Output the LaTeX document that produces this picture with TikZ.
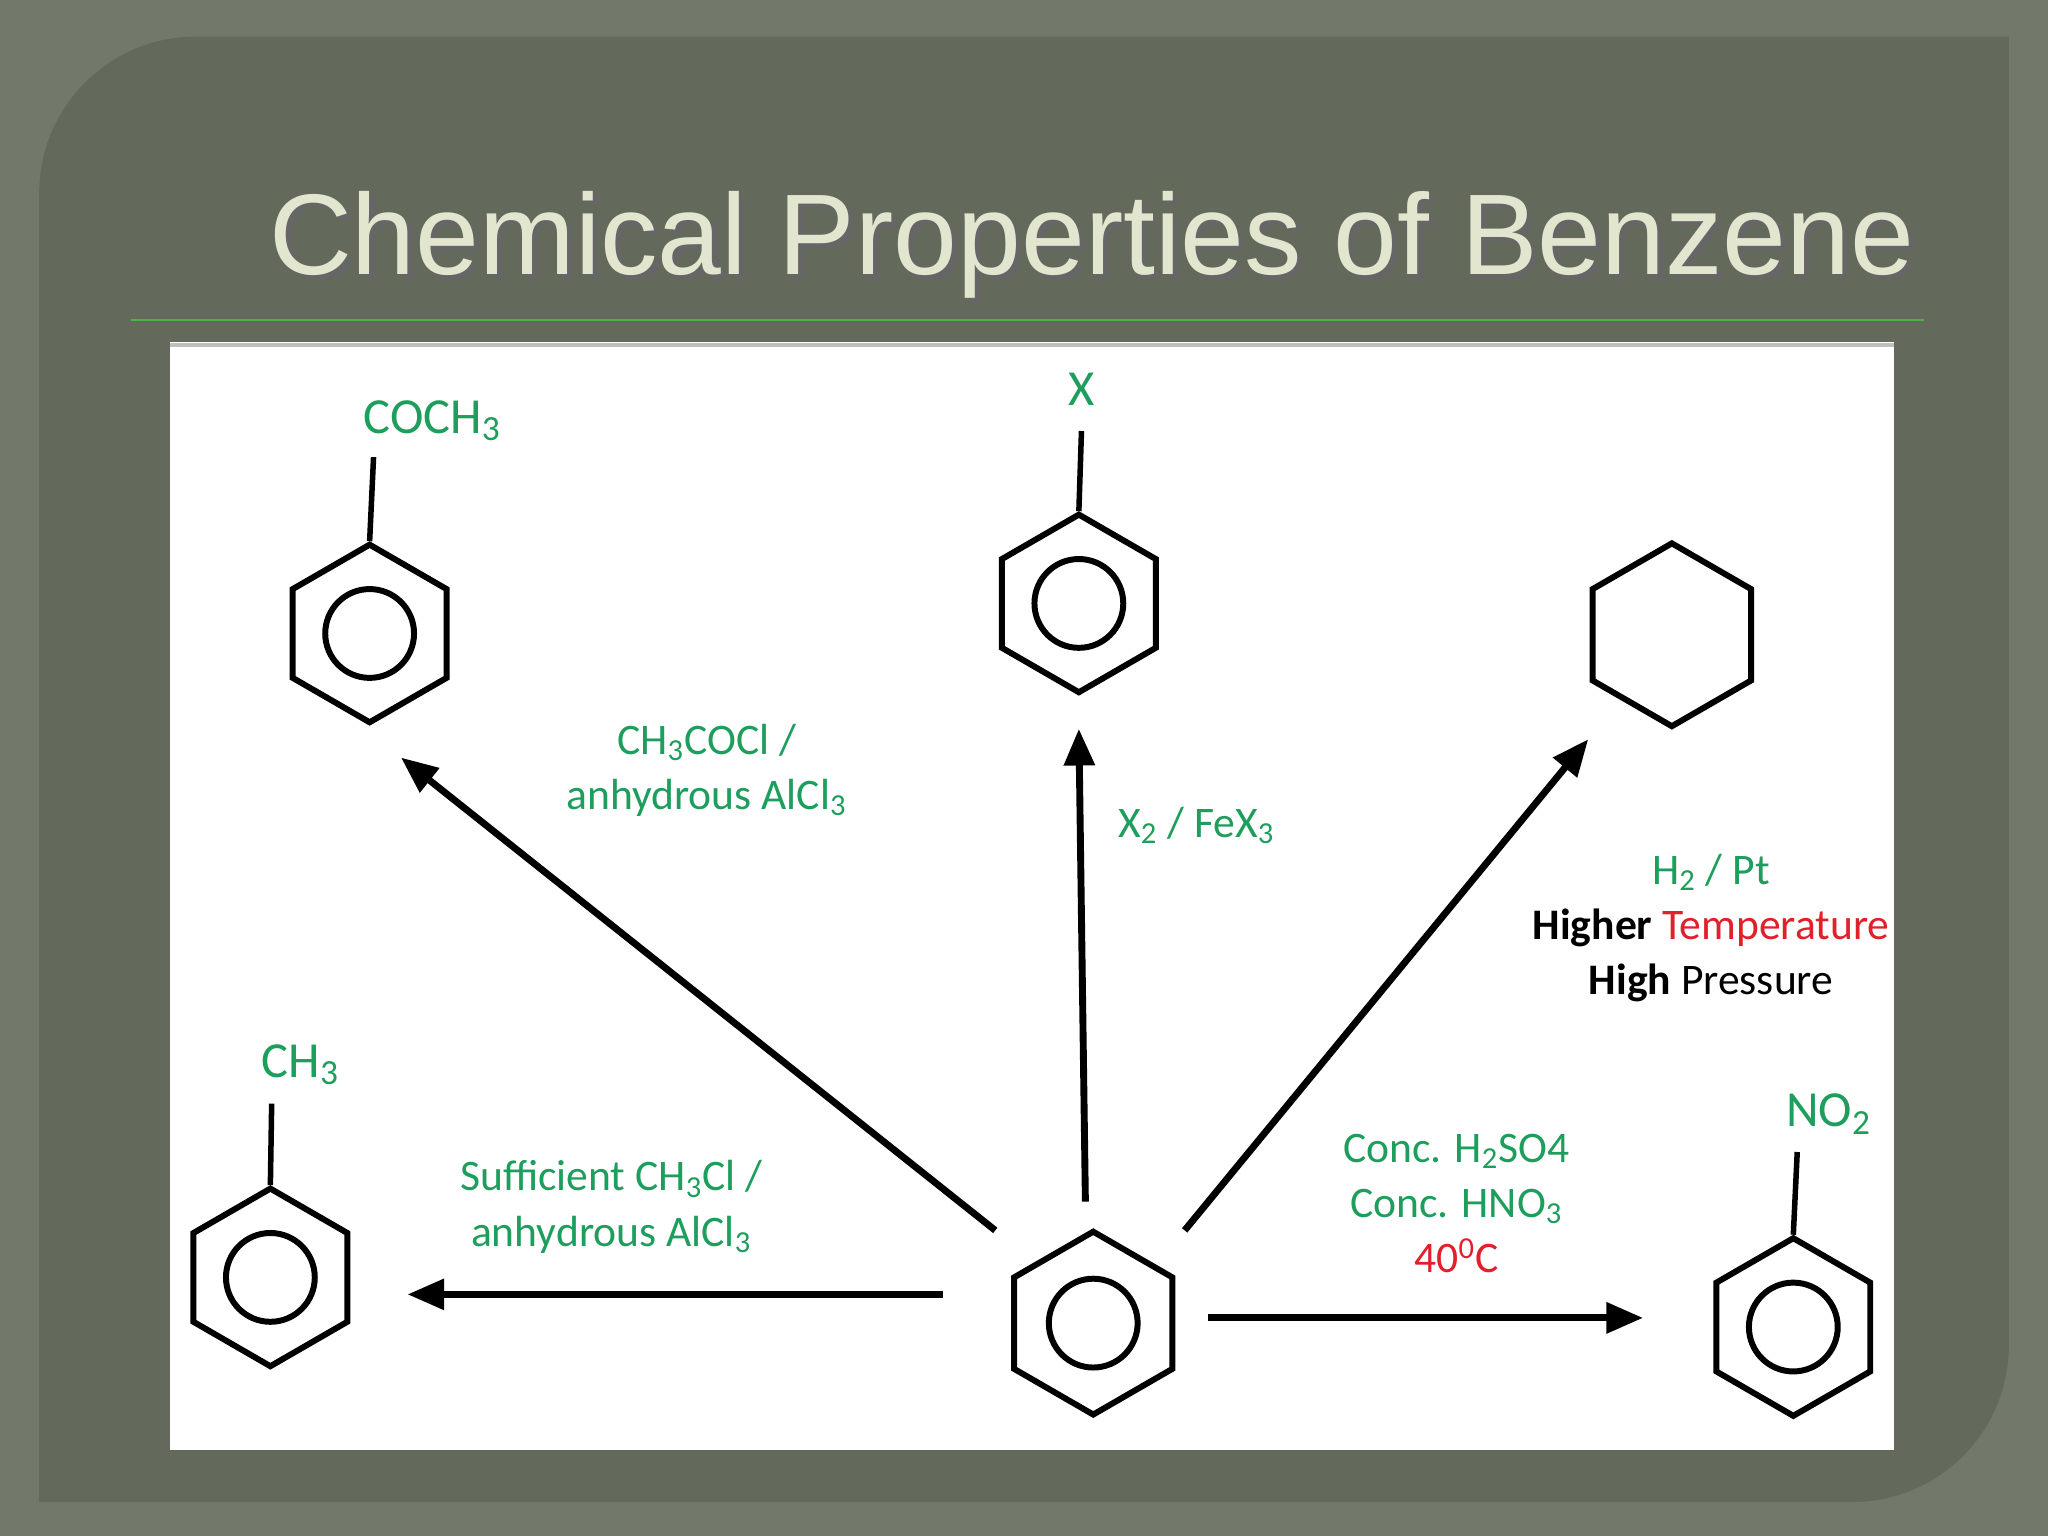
\documentclass[tikz,border=0pt]{standalone}
\usepackage{fontspec}
\setmainfont{Carlito}
\newfontfamily\titlefont{Liberation Sans}
\usetikzlibrary{shapes.geometric,arrows.meta}
\definecolor{bgout}{HTML}{72786A}
\definecolor{bgin}{HTML}{63695B}
\definecolor{ttl}{HTML}{E2E6CF}
\definecolor{chemgreen}{HTML}{1E9E5C}
\definecolor{chemred}{HTML}{E0202A}
\newcommand{\sbs}[1]{\textsubscript{#1}}
\tikzset{
 px/.style={x=0.02cm,y=-0.02cm},
 ring/.style={regular polygon,regular polygon sides=6,shape border rotate=30,draw,line width=2.6pt,minimum size=140*0.02cm,inner sep=0pt},
 aro/.style={circle,draw,line width=2.6pt,minimum size=68*0.02cm,inner sep=0pt},
 bond/.style={line width=2.4pt},
 rxn/.style={line width=3pt,-{Triangle[length=16pt,width=13pt]}},
 lbl/.style={text=chemgreen,font=\fontsize{19}{24}\selectfont,align=center},
}
\begin{document}
\begin{tikzpicture}[px]
\fill[bgout] (0,0) rectangle (1568,1176);
\fill[bgin] (30,1150) -- (30,148) arc[start angle=180,end angle=270,radius=120] -- (1538,28) -- (1538,1030) arc[start angle=0,end angle=90,radius=120] -- cycle;
\node[text=black!60,font=\titlefont\fontsize{50}{60}\selectfont,anchor=base east] at (1476,214) {Chemical Properties of Benzene};
\node[text=ttl,font=\titlefont\fontsize{50}{60}\selectfont,anchor=base east] (title) at (1472,210) {Chemical Properties of Benzene};
\draw[color=green!40!gray,line width=1pt] (100,245) -- (1473,245);
\fill[white] (130,262) rectangle (1450,1110);
\draw[color=gray!50,line width=2pt] (130,264) -- (1450,264);
\begin{scope}
\clip (130,262) rectangle (1450,1110);
\node[ring] (b) at (837,1013) {}; \node[aro] at (b) {};
\node[ring,minimum size=136*0.02cm] (ac) at (283,485) {}; \node[aro] at (ac) {};
\node[ring,minimum size=136*0.02cm] (hx) at (826,462) {}; \node[aro] at (hx) {};
\node[ring] (cy) at (1280,486) {};
\node[ring,minimum size=136*0.02cm] (me) at (207,978) {}; \node[aro] at (me) {};
\node[ring,minimum size=136*0.02cm] (ni) at (1373,1016) {}; \node[aro] at (ni) {};
\node[lbl,font=\fontsize{22}{26}\selectfont] (lac) at (331,322) {COCH\sbs{3}};
\draw[bond] (ac.corner 1) -- (286,350);
\node[lbl,font=\fontsize{22}{26}\selectfont] (lx) at (828,298) {X};
\draw[bond] (hx.corner 1) -- (828,330);
\node[lbl,font=\fontsize{22}{26}\selectfont] (lme) at (230,815) {CH\sbs{3}};
\draw[bond] (me.corner 1) -- (208,845);
\node[lbl,font=\fontsize{22}{26}\selectfont] (lno) at (1400,853) {NO\sbs{2}};
\draw[bond] (ni.corner 1) -- (1376,882);
\coordinate (s1) at (762,942); \coordinate (e1) at (307,580);
\coordinate (s2) at (831,920); \coordinate (e2) at (826,558);
\coordinate (s3) at (907,942); \coordinate (e3) at (1216,566);
\coordinate (s4) at (722,991); \coordinate (e4) at (312,991);
\coordinate (s5) at (925,1009); \coordinate (e5) at (1258,1009);
\draw[rxn] (s1) -- (e1);
\draw[rxn] (s2) -- (e2);
\draw[rxn] (s3) -- (e3);
\draw[rxn] (s4) -- (e4);
\draw[rxn] (s5) -- (e5);
\node[lbl] (r1) at (541,590) {CH\sbs{3}COCl /\\anhydrous AlCl\sbs{3}};
\node[lbl,anchor=west] (r2) at (850,632) {X\sbs{2} / FeX\sbs{3}};
\node[lbl,align=center,anchor=north] (r3) at (1310,648) {H\sbs{2} / Pt\\{\color{black}\bfseries Higher} {\color{chemred}Temperature}\\{\color{black}\bfseries High} {\color{black}Pressure}};
\node[lbl] (r4) at (468,924) {Sufficient CH\sbs{3}Cl /\\anhydrous AlCl\sbs{3}};
\node[lbl,align=center,anchor=north] (r5) at (1115,862) {Conc. H\sbs{2}SO4\\Conc. HNO\sbs{3}\\{\color{chemred}40\textsuperscript{0}C}};
\end{scope}
\end{tikzpicture}
\end{document}
